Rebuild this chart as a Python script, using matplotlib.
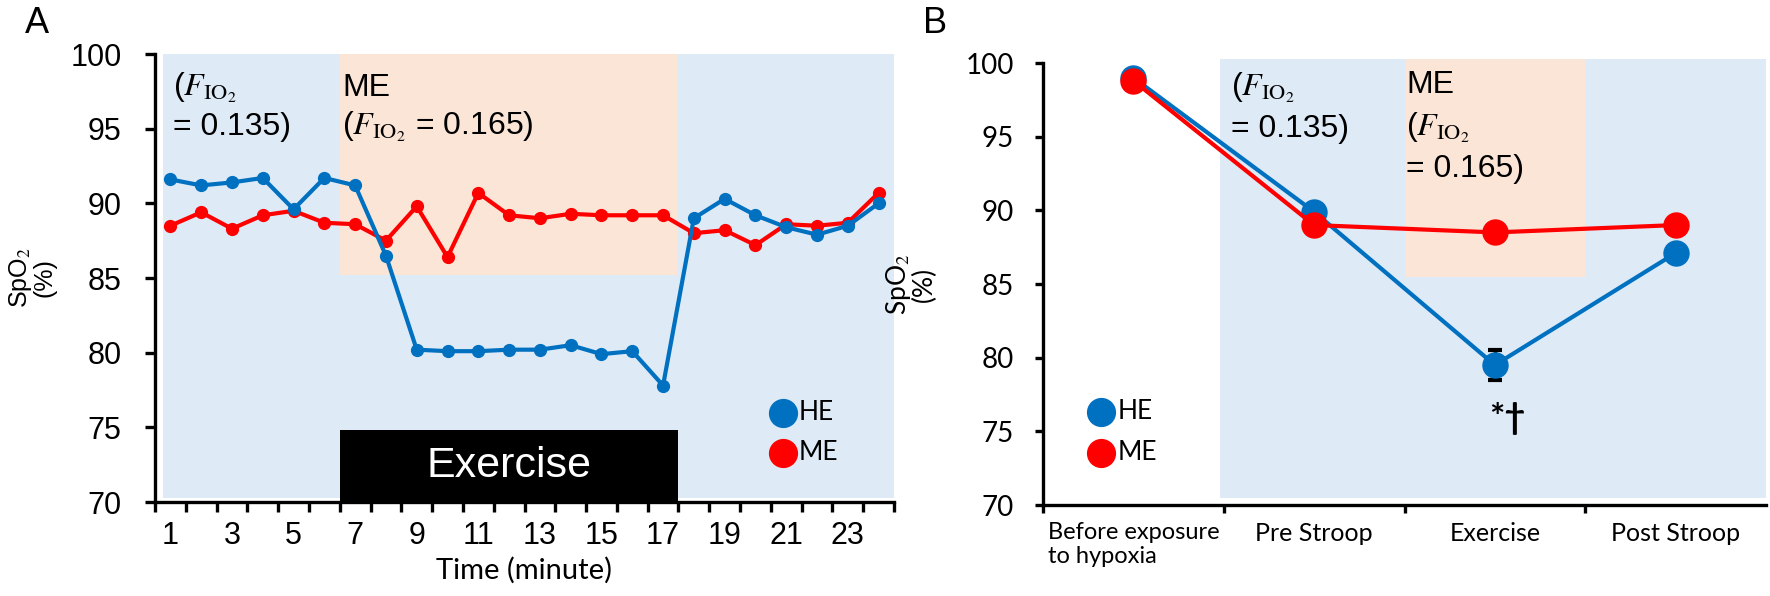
import matplotlib
matplotlib.use("Agg")
import matplotlib.pyplot as plt
from matplotlib.patches import Rectangle

plt.rcParams['mathtext.fontset'] = 'stix'
SANS = ['Liberation Sans', 'DejaVu Sans']
CAL = ['Lato', 'DejaVu Sans']

BLUE = '#0070C0'
RED = '#FF0000'
BG_BLUE = '#DEEAF6'
BG_PEACH = '#FBE5D6'

# panel A: SpO2 every minute
minutes = list(range(1, 25))
he_a = [91.6, 91.2, 91.4, 91.7, 89.6, 91.7, 91.2, 86.5, 80.2, 80.1, 80.1, 80.2,
        80.2, 80.5, 79.9, 80.1, 77.8, 89.0, 90.3, 89.2, 88.4, 87.9, 88.5, 90.0]
me_a = [88.5, 89.4, 88.3, 89.2, 89.5, 88.7, 88.6, 87.5, 89.8, 86.4, 90.7, 89.2,
        89.0, 89.3, 89.2, 89.2, 89.2, 88.0, 88.2, 87.2, 88.6, 88.5, 88.7, 90.7]
exercise_span = [6.5, 17.5]

# panel B: phase means
phases = ['Before exposure\nto hypoxia', 'Pre Stroop', 'Exercise', 'Post Stroop']
he_b = [99.0, 89.9, 79.5, 87.1]
he_b_err = [0, 0, 1.0, 0]
me_b = [98.8, 89.0, 88.5, 89.0]

fig = plt.figure(figsize=(17.7, 5.96), dpi=100)
W, H = 1770, 596
FIO2 = r'($F_{\mathrm{IO}_2}$'


def px_axes(l, r, t, b):
    return fig.add_axes([l / W, (H - b) / H, (r - l) / W, (b - t) / H])


def style(ax, ypad, tlen, fam, fs):
    for s in ['top', 'right']:
        ax.spines[s].set_visible(False)
    for s in ['left', 'bottom']:
        ax.spines[s].set_linewidth(2.4)
    ax.set_ylim(70, 100)
    ax.set_yticks([70, 75, 80, 85, 90, 95, 100])
    ax.tick_params(axis='y', which='major', length=tlen, width=2.4, pad=ypad, labelsize=fs)
    ax.tick_params(axis='x', which='major', length=tlen, width=2.4, labelbottom=False)
    ax.tick_params(axis='x', which='minor', length=0)
    for lab in ax.get_yticklabels():
        lab.set_family(fam)


# ---------------- panel A ----------------
axA = px_axes(155, 894, 54, 502)
style(axA, 17, 7, SANS, 22)
axA.set_xlim(0.5, 24.5)
axA.set_xticks([m + 0.5 for m in [0] + minutes])
axA.set_xticks(minutes[::2], minor=True)
axA.set_xticklabels([str(m) for m in minutes[::2]], minor=True, family=SANS, fontsize=22)
axA.tick_params(axis='x', which='minor', pad=14)

axA.add_patch(Rectangle((0.75, 70.3), 23.75, 29.7, color=BG_BLUE, lw=0, zorder=0))
axA.add_patch(Rectangle((exercise_span[0], 85.2), exercise_span[1] - exercise_span[0], 14.8,
                        color=BG_PEACH, lw=0, zorder=0.5))
axA.add_patch(Rectangle((exercise_span[0], 70), exercise_span[1] - exercise_span[0], 4.8,
                        color='black', lw=0, zorder=1))
axA.text(sum(exercise_span) / 2, 72.4, 'Exercise', color='white', fontsize=31,
         family=SANS, ha='center', va='center', zorder=2)

axA.plot(minutes, me_a, '-o', color=RED, lw=3, ms=8.5, zorder=3)
axA.plot(minutes, he_a, '-o', color=BLUE, lw=3, ms=8.5, zorder=4)

axA.text(1.08, 97.7, FIO2, fontsize=23, family=SANS, va='center', ha='left')
axA.text(1.08, 95.1, '= 0.135)', fontsize=23, family=SANS, va='center', ha='left')
axA.text(6.57, 97.7, 'ME', fontsize=23, family=SANS, va='center', ha='left')
axA.text(6.57, 95.1, FIO2 + ' = 0.165)', fontsize=23, family=SANS, va='center', ha='left')

axA.plot([20.89], [75.96], 'o', color=BLUE, ms=20, zorder=5, clip_on=False)
axA.plot([20.89], [73.3], 'o', color=RED, ms=20, zorder=5, clip_on=False)
axA.text(21.4, 75.96, 'HE', fontsize=19, family=CAL, va='center')
axA.text(21.4, 73.3, 'ME', fontsize=19, family=CAL, va='center')

axA.set_xlabel('Time (minute)', family=CAL, fontsize=21, labelpad=4)
axA.set_ylabel('SpO$_2$\n(%)', family=SANS, fontsize=18, linespacing=0.95)
axA.yaxis.set_label_coords(-0.133, 0.5)
fig.text(25 / W, 1 - 6 / H, 'A', fontsize=26, family=SANS, va='top', ha='left')

# ---------------- panel B ----------------
axB = px_axes(1043, 1766, 63, 505)
style(axB, 15, 6, CAL, 20)
axB.set_xlim(-0.5, 3.5)
xb = list(range(len(phases)))
axB.set_xticks([-0.5, 0.5, 1.5, 2.5])
axB.set_xticks(xb, minor=True)
axB.set_xticklabels(phases, minor=True, family=CAL, fontsize=18)
axB.tick_params(axis='x', which='minor', pad=12)
first = axB.get_xticklabels(minor=True)[0]
first.set_fontsize(17)
first.set_multialignment('left')

axB.add_patch(Rectangle((0.48, 70.5), 3.02, 29.8, color=BG_BLUE, lw=0, zorder=0, clip_on=False))
axB.add_patch(Rectangle((1.5, 85.45), 1.0, 14.85, color=BG_PEACH, lw=0, zorder=0.5, clip_on=False))

axB.errorbar(xb, he_b, yerr=he_b_err, fmt='none', ecolor='black', elinewidth=2.5,
             capsize=5, capthick=3, zorder=2)
axB.plot(xb, he_b, '-', color=BLUE, lw=3, zorder=2.5)
axB.plot(xb, he_b, 'o', color=BLUE, ms=18, zorder=2.6, clip_on=False)
axB.plot(xb, me_b, '-', color=RED, lw=3, zorder=3)
axB.plot(xb, me_b, 'o', color=RED, ms=18, zorder=3.1, clip_on=False)

axB.text(2.07, 75.9, '*†', fontsize=26, family=CAL, fontweight='bold', ha='center', va='center')

axB.text(0.54, 98.3, FIO2, fontsize=23, family=SANS, va='center', ha='left')
axB.text(0.54, 95.5, '= 0.135)', fontsize=23, family=SANS, va='center', ha='left')
axB.text(1.51, 98.5, 'ME', fontsize=23, family=SANS, va='center', ha='left')
axB.text(1.51, 95.6, FIO2, fontsize=23, family=SANS, va='center', ha='left')
axB.text(1.51, 92.8, '= 0.165)', fontsize=23, family=SANS, va='center', ha='left')

axB.plot([-0.18], [76.33], 'o', color=BLUE, ms=20, zorder=5)
axB.plot([-0.18], [73.54], 'o', color=RED, ms=20, zorder=5)
axB.text(-0.085, 76.33, 'HE', fontsize=19, family=CAL, va='center')
axB.text(-0.085, 73.54, 'ME', fontsize=19, family=CAL, va='center')

axB.set_ylabel('SpO$_2$\n(%)', family=CAL, fontsize=19, linespacing=0.95)
axB.yaxis.set_label_coords(-0.147, 0.5)
fig.text(923 / W, 1 - 6 / H, 'B', fontsize=26, family=SANS, va='top', ha='left')

fig.savefig('out.png', dpi=100)
